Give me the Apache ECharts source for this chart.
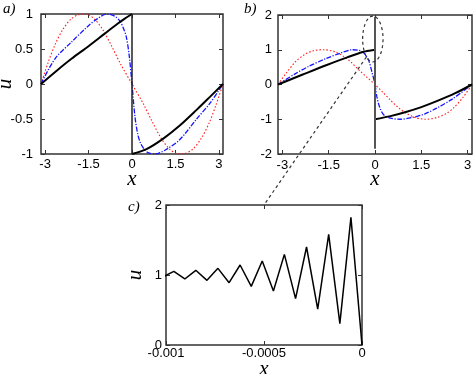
<!DOCTYPE html>
<html><head><meta charset="utf-8">
<script src="https://cdn.jsdelivr.net/npm/echarts@6/dist/echarts.min.js"></script>
<style>html,body{margin:0;padding:0;background:#fff}#c{width:474px;height:374px}</style>
</head><body><div id="c"></div>
<script>
const PI = Math.PI;
// ---- panel a ----
const aRed = [[-PI,0],[-2.9,0.3],[-2.66,0.56],[-2.4,0.77],[-2.1,0.93],[-1.8,0.995],[-1.6,1.0],[-1.3,0.93],[-1.0,0.77],[-0.7,0.54],[-0.4,0.29],[0,0],
  [0.4,-0.29],[0.7,-0.54],[1.0,-0.77],[1.3,-0.93],[1.6,-1.0],[1.8,-0.995],[2.1,-0.93],[2.4,-0.77],[2.66,-0.56],[2.9,-0.3],[PI,0]];
const aBlue = [[-PI,0],[-2.66,0.36],[-2.09,0.6],[-1.51,0.83],[-1.2,0.93],[-0.88,1.0],[-0.6,0.97],[-0.42,0.9],[-0.3,0.8],[-0.2,0.68],[-0.1,0.42],[0,0],
  [0.1,-0.46],[0.2,-0.72],[0.3,-0.85],[0.42,-0.93],[0.55,-0.98],[0.8,-1.0],[1.2,-0.93],[1.66,-0.79],[2.23,-0.5],[2.7,-0.27],[PI,0]];
const aBlackLeft = [[-PI,0],[-2.6,0.19],[-2.09,0.36],[-1.5,0.54],[-0.94,0.72],[-0.5,0.86],[-0.25,0.935],[0,1]];
const aBlackRight = [[0,-1],[0.5,-0.93],[1.08,-0.78],[1.66,-0.59],[2.23,-0.37],[2.7,-0.18],[PI,0]];
const aJump = [[0,1],[0,-1]];
// ---- panel b ----
const bRed = [[-PI,0],[-2.9,0.3],[-2.58,0.65],[-2.3,0.85],[-2.0,0.97],[-1.65,1.0],[-1.3,0.94],[-1.0,0.8],[-0.75,0.62],[-0.5,0.4],[-0.25,0.2],[0,0],
  [0.25,-0.22],[0.5,-0.45],[0.75,-0.66],[1.0,-0.82],[1.3,-0.95],[1.65,-1.0],[2.0,-0.95],[2.3,-0.84],[2.54,-0.68],[2.85,-0.37],[PI,0]];
const bBlue = [[-PI,0],[-2.6,0.3],[-2.15,0.52],[-1.6,0.74],[-1.1,0.91],[-0.74,1.0],[-0.5,0.98],[-0.35,0.9],[-0.2,0.68],[-0.1,0.36],[0,0],
  [0.06,-0.35],[0.15,-0.65],[0.28,-0.87],[0.5,-0.97],[0.82,-1.0],[1.2,-0.95],[1.6,-0.85],[2.0,-0.68],[2.5,-0.42],[PI,0]];
const bBlackLeft = [[-PI,0],[-2.36,0.28],[-1.54,0.57],[-0.9,0.78],[-0.42,0.93],[0,1]];
const bBlackRight = [[0,-1],[0.5,-0.91],[1.0,-0.79],[1.5,-0.65],[2.0,-0.48],[2.6,-0.25],[PI,0]];
const bSpike = [[0,1.95],[0,-1.85]];
// ---- panel c ----
const cX = [-0.0010165,-0.00096,-0.000904,-0.000848,-0.000791,-0.000735,-0.000678,-0.000622,-0.000565,-0.000509,-0.000452,-0.000396,-0.000339,-0.000283,-0.000226,-0.00017,-0.000113,-0.0000565,0];
const cU = [0.97,1.052,0.943,1.067,0.924,1.095,0.89,1.143,0.838,1.2,0.771,1.295,0.662,1.4,0.514,1.581,0.305,1.824,0.0];
// ---- ticks ----
const xTicksAB = [-3,-1.5,0,1.5,3];
const xTickLabelsAB = ['-3','-1.5','0','1.5','3'];
const yTicksA = [-1,-0.5,0,0.5,1];
const yTickLabelsA = ['-1','-0.5','0','0.5','1'];
const yTicksB = [-2,-1,0,1,2];
const yTickLabelsB = ['-2','-1','0','1','2'];
const xTicksC = [-0.001,-0.0005,0];
const xTickLabelsC = ['-0.001','-0.0005','0'];
const yTicksC = [0,1,2];
const yTickLabelsC = ['0','1','2'];
// ---- annotations (data coords of panel b / c) ----
const zoomEllipse = {cx:-0.07, cy:1.31, rx:0.33, ry:0.66};
const connectorFrom = [-0.28, 0.79];
const connectorTo = [-0.0005, 2];

const FONT = '"Liberation Sans", Arial, sans-serif';
const SERIF = '"Liberation Serif", "Times New Roman", serif';
function fmt(ticks, labels){ return v => { for (let i=0;i<ticks.length;i++) if (Math.abs(ticks[i]-v) < 1e-12) return labels[i]; return ''; }; }
function mkAxis(isX, grid, min, max, ticks, labels, pos, opts){
  const show = pos === 'bottom' || pos === 'left';
  return { type:'value', gridIndex:grid, position:pos, min, max,
    name: show ? (opts.name || '') : '', nameLocation:'middle', nameGap: opts.nameGap, nameMoveOverlap:false,
    nameTextStyle:{fontFamily:SERIF, fontStyle:'italic', fontSize:21, color:'#000'},
    axisLine:{show:false, onZero:false}, splitLine:{show:false},
    axisTick:{show:true, inside:true, length:4, customValues:ticks, lineStyle:{color:'#333', width:1}},
    axisLabel:{show:show, customValues:ticks, formatter:fmt(ticks,labels), margin:opts.margin, fontSize:13, fontFamily:FONT, color:'#000'} };
}
const mkX = (...a) => mkAxis(true, ...a);
const mkY = (...a) => mkAxis(false, ...a);
const gridStyle = {show:true, borderColor:'#333', borderWidth:1.5, backgroundColor:'transparent', containLabel:false, outerBoundsMode:'none'};
const red = (data, xi) => ({type:'line', xAxisIndex:xi, yAxisIndex:xi, data, symbol:'none', smooth:0.3, lineStyle:{color:'#ff1a1a', width:1.1, type:[1.5,2]}, z:3});
const blue = (data, xi) => ({type:'line', xAxisIndex:xi, yAxisIndex:xi, data, symbol:'none', smooth:0.3, lineStyle:{color:'#1414ff', width:1.3, type:[5,1.5,1.2,1.5]}, z:4});
const black = (data, xi) => ({type:'line', xAxisIndex:xi, yAxisIndex:xi, data, symbol:'none', smooth:0.3, lineStyle:{color:'#000', width:2}, z:5});

const chart = echarts.init(document.getElementById('c'), null, {renderer:'canvas'});
chart.setOption({
  animation:false,
  grid:[
    Object.assign({left:41, top:14, width:182, height:140}, gridStyle),
    Object.assign({left:278, top:15, width:194, height:139}, gridStyle),
    Object.assign({left:166, top:205, width:196, height:140}, gridStyle)
  ],
  xAxis:[
    mkX(0,-PI,PI,xTicksAB,xTickLabelsAB,'bottom',{name:'x',nameGap:15,margin:4}),
    mkX(0,-PI,PI,xTicksAB,xTickLabelsAB,'top',{}),
    mkX(1,-PI,PI,xTicksAB,xTickLabelsAB,'bottom',{name:'x',nameGap:15,margin:5}),
    mkX(1,-PI,PI,xTicksAB,xTickLabelsAB,'top',{}),
    mkX(2,-0.001,0,xTicksC,xTickLabelsC,'bottom',{name:'x',nameGap:14,margin:2}),
    mkX(2,-0.001,0,xTicksC,xTickLabelsC,'top',{})
  ],
  yAxis:[
    mkY(0,-1,1,yTicksA,yTickLabelsA,'left',{name:'u',nameGap:25,margin:8}),
    mkY(0,-1,1,yTicksA,yTickLabelsA,'right',{}),
    mkY(1,-2,2,yTicksB,yTickLabelsB,'left',{name:'',nameGap:26,margin:6}),
    mkY(1,-2,2,yTicksB,yTickLabelsB,'right',{}),
    mkY(2,0,2,yTicksC,yTickLabelsC,'left',{name:'u',nameGap:20,margin:4}),
    mkY(2,0,2,yTicksC,yTickLabelsC,'right',{})
  ],
  series:[
    red(aRed,0), blue(aBlue,0), black(aBlackLeft,0), black(aBlackRight,0),
    {type:'line', xAxisIndex:0, yAxisIndex:0, data:aJump, symbol:'none', lineStyle:{color:'#222', width:1.5}, z:5},
    red(bRed,2), blue(bBlue,2), black(bBlackLeft,2), black(bBlackRight,2),
    {type:'line', xAxisIndex:2, yAxisIndex:2, data:bSpike, symbol:'none', lineStyle:{color:'#555', width:2}, z:6},
    {type:'line', xAxisIndex:4, yAxisIndex:4, data:cX.map((x,i)=>[x,cU[i]]), symbol:'none', clip:true, lineStyle:{color:'#000', width:1.5}, z:5}
  ]
});
const toB = p => chart.convertToPixel({xAxisIndex:2, yAxisIndex:2}, p);
const toC = p => chart.convertToPixel({xAxisIndex:4, yAxisIndex:4}, p);
const ec = toB([zoomEllipse.cx, zoomEllipse.cy]);
const erx = toB([zoomEllipse.cx + zoomEllipse.rx, zoomEllipse.cy])[0] - ec[0];
const ery = ec[1] - toB([zoomEllipse.cx, zoomEllipse.cy + zoomEllipse.ry])[1];
const p1 = toB(connectorFrom), p2 = toC(connectorTo);
const dash = {stroke:'#333', lineWidth:1.2, lineDash:[3,3], fill:null};
chart.setOption({
  graphic:[
    {type:'ellipse', shape:{cx:ec[0], cy:ec[1], rx:erx, ry:ery}, style:dash, z:100},
    {type:'line', shape:{x1:p1[0], y1:p1[1], x2:p2[0], y2:p2[1]}, style:dash, z:100},
    {type:'text', left:3, top:2, style:{text:'a)', font:'italic 15px ' + SERIF, fill:'#000'}, z:100},
    {type:'text', left:244, top:2, style:{text:'b)', font:'italic 15px ' + SERIF, fill:'#000'}, z:100},
    {type:'text', left:128, top:200, style:{text:'c)', font:'italic 15px ' + SERIF, fill:'#000'}, z:100}
  ]
});
</script></body></html>
